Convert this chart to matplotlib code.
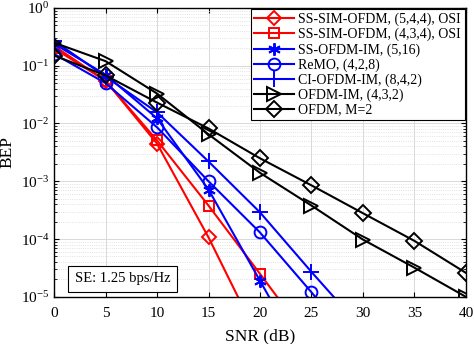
import numpy as np
import matplotlib
matplotlib.use("Agg")
import matplotlib.pyplot as plt
from matplotlib.ticker import LogLocator, NullFormatter

# ── Data ──────────────────────────────────────────────────────────────────────
snr = [0, 5, 10, 15, 20, 25, 30, 35, 40]

ss_sim_544 = [0.22, 0.055, 0.0045, 1.07e-4, 1.7e-6]
ss_sim_434 = [0.20, 0.055, 0.0051, 3.8e-4, 2.5e-5, 1.6e-6]
ss_ofdm_im = [0.24, 0.07, 0.0123, 7.2e-4, 1.9e-5, 5e-7]
remo = [0.16, 0.05, 0.0086, 1.0e-3, 1.3e-4, 1.2e-5, 1e-6]
ci_ofdm_im = [0.27, 0.065, 0.0156, 2.2e-3, 2.9e-4, 2.7e-5, 2.7e-6]
ofdm_im = [0.25, 0.12, 0.033, 0.0065, 0.0014, 3.8e-4, 9.8e-5, 3.2e-5, 1.0e-5]
ofdm = [0.15, 0.068, 0.023, 0.0082, 0.0025, 8.5e-4, 2.8e-4, 9.3e-5, 2.6e-5]

labels = [
    "SS-SIM-OFDM, (5,4,4), OSI",
    "SS-SIM-OFDM, (4,3,4), OSI",
    "SS-OFDM-IM, (5,16)",
    "ReMO, (4,2,8)",
    "CI-OFDM-IM, (8,4,2)",
    "OFDM-IM, (4,3,2)",
    "OFDM, M=2",
]
series = [ss_sim_544, ss_sim_434, ss_ofdm_im, remo, ci_ofdm_im, ofdm_im, ofdm]
colors = ["red", "red", "blue", "blue", "blue", "black", "black"]
markers = ["D", "s", (6, 2, 0), "o", "+", ">", "D"]
msizes = [7.5, 7, 9, 8.5, 11, 9.5, 8]

plt.rcParams["font.family"] = ["Liberation Serif", "DejaVu Serif"]
plt.rcParams["mathtext.fontset"] = "stix"

fig = plt.figure(figsize=(4.74, 3.44), dpi=100)
ax = fig.add_axes([0.114, 0.137, 0.869, 0.84])

for y, lab, c, m, ms in zip(series, labels, colors, markers, msizes):
    x = snr[:len(y)]
    ax.semilogy(x, y, color=c, marker=m, markersize=ms, markerfacecolor="none",
                markeredgewidth=1.4, linewidth=1.5, label=lab)

ax.set_xlim(0, 40)
ax.set_ylim(1e-5, 1)
ax.set_xticks(range(0, 41, 5))
ax.yaxis.set_major_locator(LogLocator(base=10, numticks=10))
ax.yaxis.set_minor_locator(LogLocator(base=10, subs=np.arange(2, 10), numticks=10))
ax.yaxis.set_minor_formatter(NullFormatter())
ax.set_xticks(np.arange(0, 41, 1), minor=True)

ax.grid(True, which="major", color="#d9d9d9", linewidth=0.7)
ax.grid(True, which="minor", color="#d9d9d9", linestyle=":", linewidth=0.6)
ax.xaxis.grid(False, which="minor")
ax.set_axisbelow(True)

ax.tick_params(which="both", direction="in", top=True, right=True, labelsize=11)
ax.tick_params(axis="x", which="major", pad=7)
ax.tick_params(axis="x", which="minor", length=0)
ax.set_xlabel("SNR (dB)", fontsize=12.5, labelpad=6)
ax.set_ylabel("BEP", fontsize=12.5, labelpad=4)
for s in ax.spines.values():
    s.set_linewidth(1.0)

leg = ax.legend(loc="upper right", fontsize=10, frameon=True, fancybox=False,
                edgecolor="black", framealpha=1, borderpad=0.25,
                labelspacing=0.12, handlelength=2.9, handletextpad=0.3,
                borderaxespad=0.1)
leg.get_frame().set_linewidth(0.8)

ax.text(2.0, 1.6e-5, "SE: 1.25 bps/Hz", fontsize=10.5, ha="left", va="bottom",
        bbox=dict(boxstyle="square,pad=0.45", facecolor="white",
                  edgecolor="black", linewidth=0.8))

fig.savefig("out.png", dpi=100)
